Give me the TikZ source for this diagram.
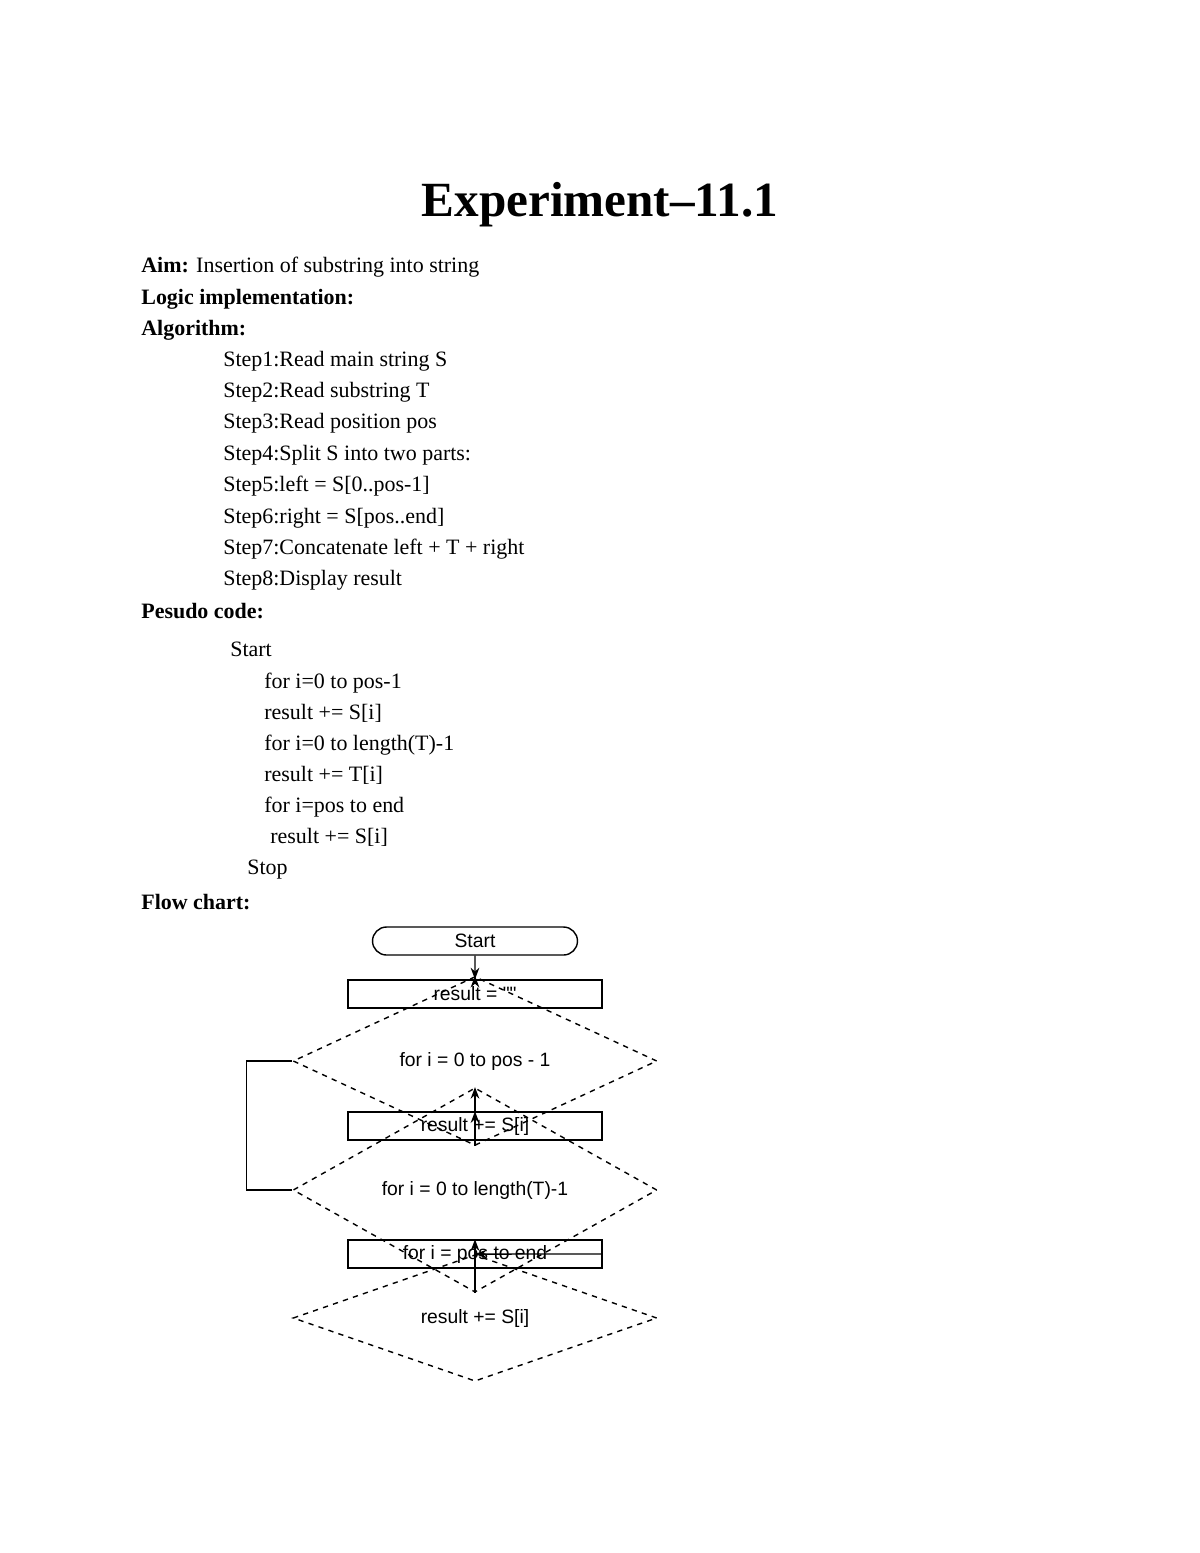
\documentclass[tikz,border=0pt]{standalone}
\usepackage{fontspec}
\setmainfont{Liberation Serif}
\newfontfamily\chartfont{Liberation Sans}
\usetikzlibrary{shapes.geometric,shapes.misc,arrows.meta}
\tikzset{
  line/.style={anchor=base west,inner sep=0pt,font=\fontsize{12.5}{15}\selectfont},
  head/.style={line,font=\fontsize{12.5}{15}\selectfont\bfseries},
  chart/.style={font=\chartfont\fontsize{11}{13}\selectfont,line width=0.8pt},
  term/.style={chart,draw,rounded rectangle,minimum width=4.1cm,minimum height=0.56cm,inner sep=0pt},
  procbox/.style={chart,draw,rectangle,minimum width=5.08cm,minimum height=0.56cm,inner sep=0pt},
  decide/.style={chart,draw,dashed,diamond,minimum width=7.28cm,minimum height=1.24cm,inner sep=0pt},
  flow/.style={-Stealth,line width=0.8pt}
}
\begin{document}
\begin{tikzpicture}[x=0.02cm,y=-0.02cm]
\useasboundingbox (0,0) rectangle (1200,1553);
\node[font=\fontsize{28}{32}\selectfont\bfseries] (title) at (600,205) {Experiment--11.1};
\node[line] (aim) at (141,272) {\textbf{Aim:} Insertion of substring into string};
\node[head] (logic) at (141,304) {Logic implementation:};
\node[head] (algo) at (141,335) {Algorithm:};
\node[line] (s1) at (223,366) {Step1:Read main string S};
\node[line] (s2) at (223,397) {Step2:Read substring T};
\node[line] (s3) at (223,428) {Step3:Read position pos};
\node[line] (s4) at (223,460) {Step4:Split S into two parts:};
\node[line] (s5) at (223,491) {Step5:left = S[0..pos-1]};
\node[line] (s6) at (223,523) {Step6:right = S[pos..end]};
\node[line] (s7) at (223,554) {Step7:Concatenate left + T + right};
\node[line] (s8) at (223,585) {Step8:Display result};
\node[head] (pseudo) at (141,618) {Pesudo code:};
\node[line] (p1) at (230,656) {Start};
\node[line] (p2) at (264,688) {for i=0 to pos-1};
\node[line] (p3) at (264,719) {result += S[i]};
\node[line] (p4) at (264,750) {for i=0 to length(T)-1};
\node[line] (p5) at (264,781) {result += T[i]};
\node[line] (p6) at (264,812) {for i=pos to end};
\node[line] (p7) at (270,843) {result += S[i]};
\node[line] (p8) at (247,874) {Stop};
\node[head] (fc) at (141,909) {Flow chart:};
% flow chart
\node[term] (start) at (475,941) {Start};
\node[procbox] (init) at (475,994) {result = ""};
\node[decide] (loopa) at (475,1061) {for i = 0 to pos - 1};
\node[procbox] (adds) at (475,1126) {result += S[i]};
\node[decide] (loopb) at (475,1190) {for i = 0 to length(T)-1};
\node[procbox] (loopc) at (475,1254) {for i = pos to end};
\node[decide] (addr) at (475,1318) {result += S[i]};
\draw[flow] (start) -- (init);
\draw[flow] (init) -- (loopa);
\draw[flow] (loopa) -- (adds);
\draw[flow] (adds) -- (loopb);
\draw[flow] (loopb) -- (loopc);
\draw[flow] (loopc) -- (addr);
\draw[line width=0.8pt] (loopa.west) -- ++(-46,0) |- (loopb.west);
\end{tikzpicture}
\end{document}
